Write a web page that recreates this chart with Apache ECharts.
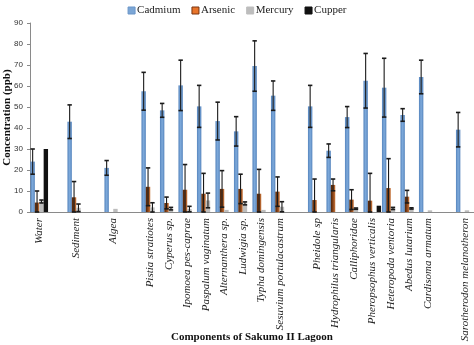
<!DOCTYPE html>
<html>
<head>
<meta charset="utf-8">
<script src="https://cdn.jsdelivr.net/npm/echarts@6/dist/echarts.min.js"></script>
<style>html,body{margin:0;padding:0;background:#fff;}#c{width:474px;height:345px;}</style>
</head>
<body>
<div id="c"></div>
<script>
var categories = ['Water',' ','Sediment','  ','Algea','   ','Pistia stratiotes','Cyperus sp.','Ipomoea pes-caprae','Paspalum vaginatum','Alternanthera sp.','Ludwigia sp.','Typha domingensis','Sesuvium portulacastrum','    ','Pheidole sp','Hydrophilus triangularis','Calliphoridae','Pheropsophus verticalis','Heteropoda ventoria','Abedus lutarium','Cardisoma armatum','     ','Sarotherodon melanotheron'];
var seriesNames = ['Cadmium','Arsenic','Mercury','Cupper'];
var cadmium    = [24, null, 43, null, 21, null, 57.5, 48.4, 60.3, 50.3, 43.3, 38.4, 69.5, 55.4, null, 50.3, 29.2, 45.2, 62.5, 59.2, 46.2, 64.3, null, 39.2];
var cadmiumErr = [6, null, 8, null, 3.5, null, 9, 3.3, 12, 10, 9, 7, 12, 7, null, 10, 3.2, 5, 13, 14, 3, 8, null, 8.2];
var arsenic    = [4.5, null, 7, null, null, null, 12, 4.3, 10.6, 8.7, 11, 11, 8.7, 9.7, null, 5.7, 12.9, 5.9, 5.4, 11.4, 7.3, null, null, null];
var arsenicErr = [5.5, null, 7.5, null, null, null, 9, 2.8, 12, 9.7, 8.7, 7, 11.6, 7, null, 10, 2.8, 4.7, 13, 14, 3, null, null, null];
var mercury    = [5, null, 2, null, 1.5, null, 2.2, 1.6, 1.4, 5.5, 1, 4.1, 1, 2.5, null, null, null, 1.6, null, 1.7, 1.7, 0.8, null, 0.8];
var mercuryErr = [0.7, null, 1.8, null, null, null, 2.2, 0.6, 1.3, 3.5, null, 0.7, null, 2.4, null, null, null, 0.3, null, 0.5, 0.3, null, null, null];
var cupper     = [30, null, null, null, null, null, null, null, null, null, null, null, null, null, null, null, null, null, 3, null, null, null, null, null];
var cupperErr  = [null, null, null, null, null, null, null, null, null, null, null, null, null, null, null, null, null, null, null, null, null, null, null, null];
var yTicks = [0, 10, 20, 30, 40, 50, 60, 70, 80, 90];

var values = [cadmium, arsenic, mercury, cupper];
var errs = [cadmiumErr, arsenicErr, mercuryErr, cupperErr];
var BW = 4.4;
var colors = [
  {type:'linear',x:0,y:0,x2:1,y2:0,colorStops:[{offset:0,color:'#5584bd'},{offset:0.5,color:'#7eaadb'},{offset:1,color:'#5584bd'}]},
  {type:'linear',x:0,y:0,x2:1,y2:0,colorStops:[{offset:0,color:'#4a2208'},{offset:0.5,color:'#8a4519'},{offset:1,color:'#c8743a'}]},
  '#bdbdbd',
  '#111111'
];
var legendColors = ['#7ba6d6','#e8742a','#bdbdbd','#111111'];
var legendBorders = ['#6a95c8','#7a3510','#bdbdbd','#111111'];

var series = [];
for (var i = 0; i < 4; i++) {
  series.push({
    name: seriesNames[i], type: 'bar', data: values[i], barWidth: BW, barGap: '0%',
    itemStyle: {color: colors[i]}, z: 2
  });
}
for (var j = 0; j < 4; j++) {
  (function(k){
    var d = [];
    for (var n = 0; n < categories.length; n++) {
      if (values[k][n] != null && errs[k][n] != null) d.push([n, values[k][n], errs[k][n]]);
    }
    series.push({
      type: 'custom', name: seriesNames[k] + ' err', data: d, z: 5, silent: true,
      encode: {x: 0, y: 1},
      renderItem: function(params, api) {
        var x = api.value(0), v = api.value(1), e = api.value(2);
        var off = (k - 1.5) * BW;
        var top = api.coord([x, v + e]);
        var bot = api.coord([x, Math.max(0, v - e)]);
        var cx = top[0] + off;
        var hw = 2.2;
        var st = {stroke: '#1a1a1a', lineWidth: 1.1};
        return {type: 'group', children: [
          {type: 'line', shape: {x1: cx, y1: top[1], x2: cx, y2: bot[1]}, style: st},
          {type: 'line', shape: {x1: cx - hw, y1: top[1], x2: cx + hw, y2: top[1]}, style: {stroke:'#1a1a1a', lineWidth: 1.6}},
          {type: 'line', shape: {x1: cx - hw, y1: bot[1], x2: cx + hw, y2: bot[1]}, style: {stroke:'#1a1a1a', lineWidth: 1.6}}
        ]};
      }
    });
  })(j);
}

var chart = echarts.init(document.getElementById('c'), null, {renderer: 'canvas'});
chart.setOption({
  animation: false,
  backgroundColor: '#fff',
  legend: {
    top: 0, left: 'center', itemWidth: 7, itemHeight: 7, itemGap: 11,
    icon: 'rect',
    textStyle: {fontFamily: 'Liberation Serif', fontSize: 11, color: '#222', padding: [0,0,0,-3]},
    data: seriesNames.map(function(n, i){ return {name: n, itemStyle: {color: legendColors[i], borderColor: legendBorders[i], borderWidth: 1}}; })
  },
  grid: {left: 30, right: 0, top: 23, bottom: 133, containLabel: false, outerBoundsMode: 'none'},
  xAxis: {
    type: 'category', data: categories,
    axisLine: {lineStyle: {color: '#8a8a8a'}},
    axisTick: {show: false},
    axisLabel: {rotate: 90, interval: 0, margin: 6, fontFamily: 'Liberation Serif', fontStyle: 'italic', fontSize: 11, color: '#222'},
    name: 'Components of Sakumo II Lagoon', nameLocation: 'middle', nameGap: 120, nameMoveOverlap: false,
    nameTextStyle: {fontFamily: 'Liberation Serif', fontWeight: 'bold', fontSize: 11, color: '#111'}
  },
  yAxis: {
    type: 'value', min: yTicks[0], max: yTicks[yTicks.length - 1], interval: 10,
    axisLine: {show: true, lineStyle: {color: '#8a8a8a'}},
    axisTick: {show: true, length: 3, lineStyle: {color: '#8a8a8a'}},
    splitLine: {show: false},
    axisLabel: {fontFamily: 'Liberation Sans', fontSize: 8, color: '#333', margin: 7},
    name: 'Concentration (ppb)', nameLocation: 'middle', nameGap: 17, nameRotate: 90, nameMoveOverlap: false,
    nameTextStyle: {fontFamily: 'Liberation Serif', fontWeight: 'bold', fontSize: 11, color: '#111'}
  },
  series: series
});
</script>
</body>
</html>
